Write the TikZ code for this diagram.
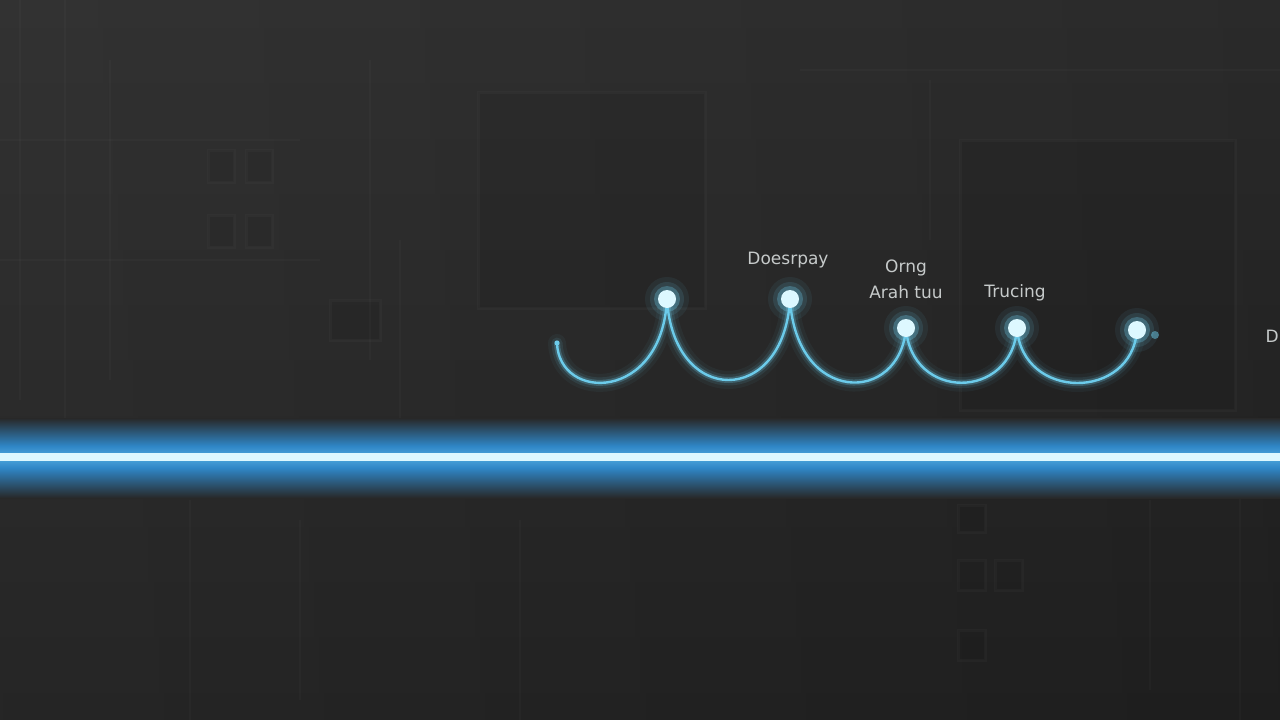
\documentclass[tikz,border=0pt]{standalone}
\usepackage{fontspec}
\setmainfont{DejaVu Sans}
\definecolor{bgtop}{HTML}{2E2E2E}
\definecolor{bgbot}{HTML}{212121}
\definecolor{bgline}{HTML}{282828}
\definecolor{glowblue}{HTML}{2F86C6}
\definecolor{midblue}{HTML}{4FA8DE}
\definecolor{corecyan}{HTML}{DDF8FF}
\definecolor{wirecyan}{HTML}{6CCBEA}
\definecolor{labelgray}{HTML}{C6CACA}
\tikzset{
  faintbox/.style={draw=white, draw opacity=0.025, line width=3pt, fill=black, fill opacity=0.06},
  faintline/.style={draw=white, draw opacity=0.018, line width=2pt},
  wireglowA/.style={draw=wirecyan, line width=18pt, opacity=0.05, line cap=round},
  wireglowB/.style={draw=wirecyan, line width=11pt, opacity=0.1, line cap=round},
  wireglowC/.style={draw=wirecyan, line width=6pt, opacity=0.25, line cap=round},
  wirecore/.style={draw=wirecyan, line width=2.4pt, line cap=round},
  dotnode/.style={circle, minimum size=18pt, inner sep=0pt, fill=corecyan},
  label/.style={text=labelgray, font=\fontsize{17}{19}\selectfont, inner sep=0pt}
}
\begin{document}
\begin{tikzpicture}[x=1pt,y=-1pt]
\useasboundingbox (0,0) rectangle (1280,720);
% background
\shade[top color=bgtop, bottom color=bgbot] (0,0) rectangle (1280,720);
\fill[left color=white, right color=black, opacity=0.03] (0,0) rectangle (1280,720);
% faint background structures
\draw[faintbox] (478,92) rectangle (705,308);
\draw[faintbox] (960,140) rectangle (1235,410);
\draw[faintbox] (208,150) rectangle (234,182);
\draw[faintbox] (246,150) rectangle (272,182);
\draw[faintbox] (208,215) rectangle (234,247);
\draw[faintbox] (246,215) rectangle (272,247);
\draw[faintbox] (330,300) rectangle (380,340);
\draw[faintbox] (958,505) rectangle (985,532);
\draw[faintbox] (958,560) rectangle (985,590);
\draw[faintbox] (995,560) rectangle (1022,590);
\draw[faintbox] (958,630) rectangle (985,660);
\draw[faintline] (20,0) -- (20,400);
\draw[faintline] (65,0) -- (65,420);
\draw[faintline] (110,60) -- (110,380);
\draw[faintline] (0,140) -- (300,140);
\draw[faintline] (0,260) -- (320,260);
\draw[faintline] (370,60) -- (370,360);
\draw[faintline] (400,240) -- (400,420);
\draw[faintline] (800,70) -- (1280,70);
\draw[faintline] (930,80) -- (930,240);
\draw[faintline] (190,500) -- (190,720);
\draw[faintline] (300,520) -- (300,700);
\draw[faintline] (520,520) -- (520,720);
\draw[faintline] (1150,500) -- (1150,690);
\draw[faintline] (1240,480) -- (1240,720);
% glowing horizontal line
\coordinate (hl) at (0,457);
\coordinate (hr) at (1280,457);
\shade[top color=bgline, bottom color=glowblue] (0,418) rectangle (1280,446);
\shade[top color=glowblue, bottom color=midblue] (0,446) rectangle (1280,457);
\shade[top color=midblue, bottom color=glowblue] (0,457) rectangle (1280,468);
\shade[top color=glowblue, bottom color=bgline] (0,468) rectangle (1280,498);
\draw[corecyan, line width=6pt, opacity=0.5] (hl) -- (hr);
\draw[corecyan, line width=7.5pt] (hl) -- (hr);
% wire points
\coordinate (s0) at (557,343);
\coordinate (p1) at (667,299);
\coordinate (p2) at (790,299);
\coordinate (p3) at (906,328);
\coordinate (p4) at (1017,328);
\coordinate (p5) at (1137,330);
\def\wirepath{(s0) .. controls (559,402) and (662,402) .. (p1)
  .. controls (673,407) and (784,407) .. (p2)
  .. controls (796,405) and (900,405) .. (p3)
  .. controls (911,401) and (1012,401) .. (p4)
  .. controls (1022,401) and (1132,401) .. (p5)}
\draw[wireglowA] \wirepath;
\draw[wireglowB] \wirepath;
\draw[wireglowC] \wirepath;
\draw[wirecore] \wirepath;
\fill[wirecyan] (s0) circle (2.5pt);
% glowing dots
\foreach \p in {p1,p2,p3,p4,p5}{
  \fill[wirecyan, opacity=0.07] (\p) circle (22pt);
  \fill[wirecyan, opacity=0.12] (\p) circle (17pt);
  \fill[wirecyan, opacity=0.3] (\p) circle (13pt);
}
\node[dotnode] (d1) at (p1) {};
\node[dotnode] (d2) at (p2) {};
\node[dotnode] (d3) at (p3) {};
\node[dotnode] (d4) at (p4) {};
\node[dotnode] (d5) at (p5) {};
\fill[wirecyan, opacity=0.5] (1155,335) circle (4pt);
% labels
\node[label] (l1) at (788,260) {Doesrpay};
\node[label] (l2) at (906,268) {Orng};
\node[label] (l3) at (906,292) {Arah tuu};
\node[label] (l4) at (1015,293) {Trucing};
\node[label, anchor=east] (l5) at (1279,336) {D};
\end{tikzpicture}
\end{document}
